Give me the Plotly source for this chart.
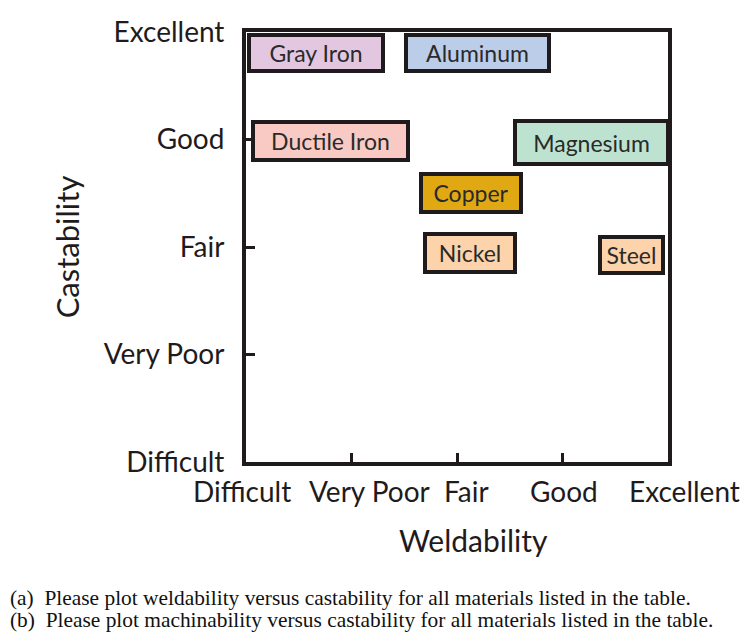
import plotly.graph_objects as go

# Rating scale used on both axes
scale_labels = ["Difficult", "Very Poor", "Fair", "Good", "Excellent"]
scale_values = [0, 1, 2, 3, 4]

# Materials and their weldability / castability ranges (in scale units)
materials = ["Gray Iron", "Aluminum", "Ductile Iron", "Magnesium", "Copper", "Nickel", "Steel"]
weld_lo = [0.03, 1.52, 0.07, 2.55, 1.66, 1.70, 3.36]
weld_hi = [1.30, 2.87, 1.54, 4.00, 2.61, 2.55, 3.95]
cast_lo = [3.64, 3.64, 2.81, 2.77, 2.33, 1.77, 1.76]
cast_hi = [3.97, 3.97, 3.16, 3.17, 2.68, 2.12, 2.09]
fill_colors = ["#E3C7E1", "#BCCDEA", "#F9CAC4", "#BDE3D0", "#E0A914", "#FCD3AB", "#FCD3AB"]

caption_lines = [
    "(a)  Please plot weldability versus castability for all materials listed in the table.",
    "(b)  Please plot machinability versus castability for all materials listed in the table.",
]

INK = "#1f1b1c"
SANS = "Lato, 'Open Sans', sans-serif"
# pixel nudges of the x tick labels, as placed in the original artwork
x_label_nudge = [-4, 18, 9, 1, 16]

fig = go.Figure()
fig.add_trace(go.Bar(
    orientation="h",
    y=[(a + b) / 2 for a, b in zip(cast_lo, cast_hi)],
    x=[h - l for l, h in zip(weld_lo, weld_hi)],
    base=weld_lo,
    width=[h - l for l, h in zip(cast_lo, cast_hi)],
    marker=dict(color=fill_colors, line=dict(color=INK, width=4)),
    text=materials,
    textposition="inside",
    insidetextanchor="middle",
    constraintext="none",
    textfont=dict(family=SANS, size=23, color="#2a2a2a"),
    hoverinfo="text",
    showlegend=False,
))

axis_common = dict(
    range=[0, 4],
    tickmode="array",
    tickvals=scale_values,
    ticktext=scale_labels,
    tickangle=0,
    ticks="inside",
    ticklen=9,
    tickwidth=3,
    tickcolor=INK,
    showline=True,
    linewidth=4,
    linecolor=INK,
    mirror=True,
    showgrid=False,
    zeroline=False,
    automargin=False,
    tickfont=dict(family=SANS, size=28, color=INK),
    fixedrange=True,
)

fig.update_xaxes(**axis_common, showticklabels=False)
fig.update_yaxes(**axis_common, ticklabelstandoff=12,
                 title=dict(text="Castability", font=dict(family=SANS, size=31, color=INK), standoff=16))

# x tick labels, anchored to the x-axis tick values
for v, t, dx in zip(scale_values, scale_labels, x_label_nudge):
    fig.add_annotation(
        text=t, xref="x", yref="paper", x=v, y=0, xshift=dx, yshift=-29,
        xanchor="center", yanchor="middle", showarrow=False,
        font=dict(family=SANS, size=28, color=INK),
    )

# x-axis title, placed slightly right of centre as in the original
fig.add_annotation(
    text="Weldability", xref="paper", yref="paper", x=0.54, y=-0.181,
    xanchor="center", yanchor="middle", showarrow=False,
    font=dict(family=SANS, size=30, color=INK),
)

for i, line in enumerate(caption_lines):
    fig.add_annotation(
        text=line, xref="paper", yref="paper", x=-0.564, y=-0.316 - i * 0.051,
        xanchor="left", yanchor="middle", showarrow=False,
        font=dict(family="'Liberation Serif', 'Times New Roman', serif", size=21.4, color="#111"),
    )

# The page body adds an 8px margin, so the figure is 8px smaller than the window.
fig.update_layout(
    width=745, height=635, autosize=False,
    margin=dict(l=238, r=85, t=24, b=181, autoexpand=False),
    plot_bgcolor="white", paper_bgcolor="white",
    bargap=0,
)

fig.write_html("out.html")
